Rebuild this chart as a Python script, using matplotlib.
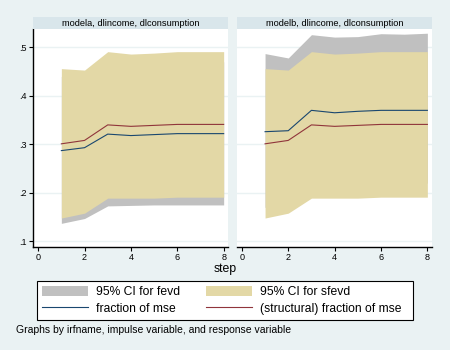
import matplotlib.pyplot as plt
from matplotlib.patches import Patch, Rectangle
from matplotlib.lines import Line2D

plt.rcParams["font.family"] = ["Liberation Sans", "DejaVu Sans"]

steps = [1, 2, 3, 4, 5, 6, 7, 8]
panel_titles = ["modela, dlincome, dlconsumption", "modelb, dlincome, dlconsumption"]

# structural fevd (same in both panels)
sfevd = [0.301, 0.308, 0.340, 0.337, 0.339, 0.341, 0.341, 0.341]
sfevd_lo = [0.148, 0.158, 0.189, 0.189, 0.189, 0.191, 0.191, 0.191]
sfevd_hi = [0.456, 0.453, 0.491, 0.486, 0.488, 0.491, 0.491, 0.491]

# fevd per model
fevd_a = [0.287, 0.293, 0.321, 0.318, 0.320, 0.322, 0.322, 0.322]
fevd_a_lo = [0.137, 0.147, 0.173, 0.174, 0.175, 0.175, 0.175, 0.175]
fevd_a_hi = [0.440, 0.440, 0.470, 0.468, 0.469, 0.470, 0.470, 0.470]
fevd_b = [0.326, 0.328, 0.370, 0.365, 0.368, 0.370, 0.370, 0.370]
fevd_b_lo = [0.170, 0.180, 0.220, 0.220, 0.220, 0.220, 0.220, 0.220]
fevd_b_hi = [0.487, 0.478, 0.526, 0.521, 0.522, 0.528, 0.527, 0.529]

yticks = [0.1, 0.2, 0.3, 0.4, 0.5]
ytick_labels = [".1", ".2", ".3", ".4", ".5"]
xticks = [0, 2, 4, 6, 8]

BG = "#EAF2F3"
HEAD = "#D9E6EB"
GRAY = "#C0C0C0"
TAN = "#E3D8A6"
NAVY = "#1A476F"
MAROON = "#90353B"

fig = plt.figure(figsize=(4.5, 3.5), dpi=100, facecolor=BG)

W, H = 450, 350
panels = [(33.3, fevd_a, fevd_a_lo, fevd_a_hi), (237, fevd_b, fevd_b_lo, fevd_b_hi)]
for i, (left, fv, lo, hi) in enumerate(panels):
    ax = fig.add_axes([left / W, 1 - 246.5 / H, 195 / W, 217.5 / H])
    ax.set_facecolor("white")
    ax.fill_between(steps, lo, hi, color=GRAY, lw=0, zorder=2)
    ax.fill_between(steps, sfevd_lo, sfevd_hi, color=TAN, lw=0, zorder=3)
    ax.plot(steps, fv, color=NAVY, lw=0.8, zorder=4)
    ax.plot(steps, sfevd, color=MAROON, lw=0.8, zorder=4)
    ax.set_xlim(-0.21, 8.2)
    ax.set_ylim(0.0893, 0.5377)
    ax.set_yticks(yticks)
    ax.set_xticks(xticks)
    ax.grid(axis="y", color=BG, lw=1, zorder=1)
    ax.set_axisbelow(True)
    for s in ["top", "right"]:
        ax.spines[s].set_visible(False)
    ax.spines["bottom"].set_linewidth(1)
    ax.tick_params(axis="x", labelsize=6.5, length=3, width=0.8, pad=2)
    if i == 0:
        ax.set_yticklabels(ytick_labels)
        ax.spines["left"].set_linewidth(1)
        ax.tick_params(axis="y", labelsize=6.5, length=3, width=0.8, pad=2)
    else:
        ax.spines["left"].set_visible(False)
        ax.tick_params(axis="y", left=False, labelleft=False)

    hd = fig.add_axes([left / W, 1 - 29 / H, 195 / W, 12 / H])
    hd.set_facecolor(HEAD)
    hd.set_xticks([])
    hd.set_yticks([])
    for s in hd.spines.values():
        s.set_visible(False)
    hd.text(0.5, 0.5, panel_titles[i], ha="center", va="center", fontsize=6.7)

fig.text(225 / W, 1 - 269 / H, "step", ha="center", va="center", fontsize=8.8)

# legend box drawn by hand so its padding matches
fig.patches.append(Rectangle((36.7 / W, 1 - 320 / H), 376.3 / W, 39.3 / H,
                             transform=fig.transFigure, facecolor="white",
                             edgecolor="black", lw=0.8, zorder=0))

handles = [
    Patch(facecolor=GRAY, edgecolor="none"),
    Line2D([], [], color=NAVY, lw=0.8),
    Patch(facecolor=TAN, edgecolor="none"),
    Line2D([], [], color=MAROON, lw=0.8),
]
labels = ["95% CI for fevd", "fraction of mse", "95% CI for sfevd", "(structural) fraction of mse"]
leg = fig.legend(handles, labels, ncol=2, loc="center left",
                 bbox_to_anchor=(41.7 / W, 1 - 300.2 / H),
                 fontsize=8.75, frameon=False,
                 handlelength=3.79, handleheight=0.9, handletextpad=0.68, columnspacing=2.14,
                 labelspacing=0.4, borderpad=0, borderaxespad=0)

fig.text(15.7 / W, 1 - 330.3 / H, "Graphs by irfname, impulse variable, and response variable",
         ha="left", va="center", fontsize=7.5)

fig.savefig("out.png", dpi=100, facecolor=BG)
